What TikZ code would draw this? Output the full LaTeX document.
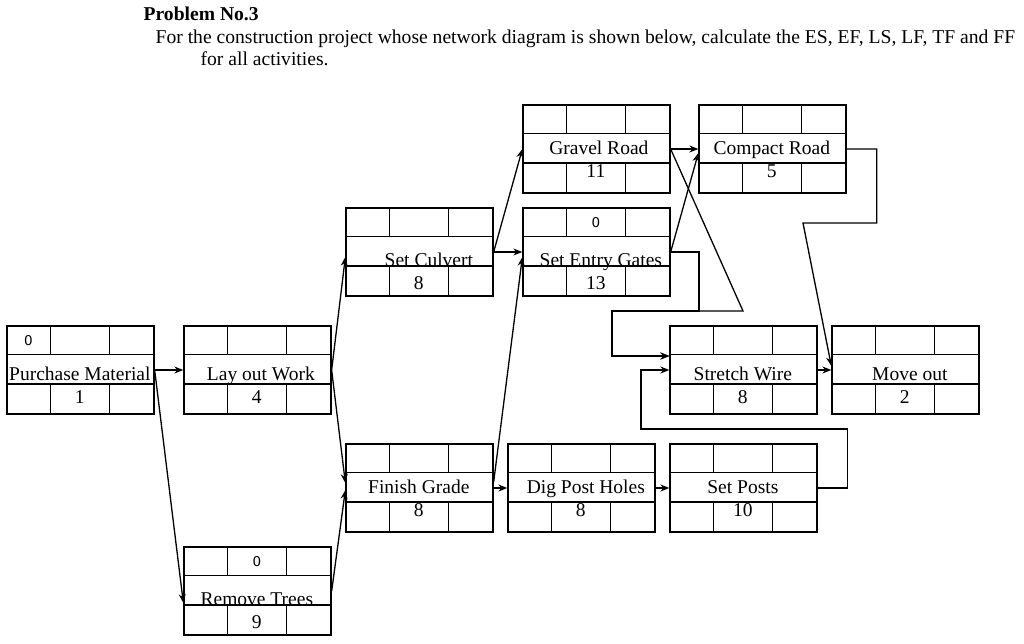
\documentclass[tikz,border=0pt]{standalone}
\usepackage{fontspec}
\setmainfont{Liberation Serif}
\newfontfamily\zerofont{DejaVu Sans}
\usetikzlibrary{calc, arrows.meta}

% one activity box: #1 name, #2 top left corner, #3 description,
% #4 duration, #5 vertical text shift, #6 horizontal shift of description
\newcommand{\activity}[6]{%
    \node[actbox] (#1) at ($(#2)+(73.5,44)$) {};
    \draw ($(#1.north west)+(0,29.3)$) -- ($(#1.north east)+(0,29.3)$);
    \draw ($(#1.north west)+(0,58.7)$) -- ($(#1.north east)+(0,58.7)$);
    \draw ($(#1.north west)+(44,0)$) -- +(0,29.3);
    \draw ($(#1.north west)+(103,0)$) -- +(0,29.3);
    \draw ($(#1.south west)+(44,0)$) -- +(0,-29.3);
    \draw ($(#1.south west)+(103,0)$) -- +(0,-29.3);
    \node[actlabel] (#1-text) at ($(#1.north west)+(73.5+#6,50+#5)$) {#3};
    \node[actlabel] (#1-dur) at ($(#1.north west)+(73.5,73.3+#5)$) {#4};
}

\begin{document}
\begin{tikzpicture}[
        x=1pt, y=-1pt, line width=1.3pt,
        >={Stealth[length=9pt,width=7pt]},
        actbox/.style={draw, minimum width=147pt, minimum height=88pt, inner sep=0pt},
        actlabel/.style={anchor=base, inner sep=0pt, font=\fontsize{19.5}{22}\selectfont},
        zero/.style={inner sep=0pt, font=\zerofont\fontsize{13.5}{15}\selectfont},
        heading/.style={anchor=base west, inner sep=0pt, font=\fontsize{19.6}{22}\selectfont}
    ]
    \useasboundingbox (0,0) rectangle (1024,643);

    % Problem statement
    \node[heading, font=\fontsize{19.6}{22}\selectfont\bfseries] (title) at (143,20) {Problem No.3};
    \node[heading] (task) at (155,43) {For the construction project whose network diagram is shown below, calculate the ES, EF, LS, LF, TF and FF};
    \node[heading] (task2) at (200,65) {for all activities.};

    % Activity boxes
    \activity{pm}{7,326}{Purchase Material}{1}{5}{0}
    \activity{lw}{184,326}{Lay out Work}{4}{5}{4}
    \activity{rt}{184,547}{Remove Trees}{9}{9}{0}
    \activity{sc}{346,208}{Set Culvert}{8}{9}{10}
    \activity{fg}{346,444}{Finish Grade}{8}{0}{0}
    \activity{gr}{523,105}{Gravel Road}{11}{0}{3}
    \activity{se}{523,208}{Set Entry Gates}{13}{9}{5}
    \activity{dp}{508,444}{Dig Post Holes}{8}{0}{5}
    \activity{cr}{699,105}{Compact Road}{5}{0}{0}
    \activity{sw}{670,326}{Stretch Wire}{8}{5}{0}
    \activity{sp}{670,444}{Set Posts}{10}{0}{0}
    \activity{mo}{832,326}{Move out}{2}{5}{5}

    % Early start values already filled in
    \node[zero] (pm-es) at ($(pm.north west)+(22,15)$) {0};
    \node[zero] (rt-es) at ($(rt.north west)+(73.5,15)$) {0};
    \node[zero] (se-es) at ($(se.north west)+(73.5,15)$) {0};

    % Bends of the routed connectors
    \coordinate (j1) at (743,311);
    \coordinate (j2) at (612,311);
    \coordinate (j3) at (699,311);
    \coordinate (j4) at (641,429);
    \coordinate (j5) at (803,223);

    % Connectors
    \draw[->] (pm.east) -- (lw.west);
    \draw[->] (pm.east) -- ($(rt.west)+(0,12)$);
    \draw[->] (lw.east) -- ($(sc.west)+(0,5)$);
    \draw[->] (lw.east) -- ($(fg.west)+(0,-5)$);
    \draw[->] (rt.east) -- ($(fg.west)+(0,2)$);
    \draw[->] (sc.east) -- (gr.west);
    \draw[->] (sc.east) -- (se.west);
    \draw[->] ($(fg.east)+(0,-6)$) -- ($(se.west)+(0,5)$);
    \draw[->] (fg.east) -- (dp.west);
    \draw[->] (dp.east) -- (sp.west);
    \draw[->] (gr.east) -- (cr.west);
    \draw[->] (se.east) -- ($(cr.west)+(0,4)$);
    \draw[->] (gr.east) -- (j1) -- (j2) |- ($(sw.west)+(0,-14)$);
    \draw[->] (se.east) -| (j3) -- (j2) |- ($(sw.west)+(0,-14)$);
    \draw[->] (sp.east) -- ++(30,0) |- (j4) |- (sw.west);
    \draw[->] (sw.east) -- (mo.west);
    \draw[->] (cr.east) -- ++(30,0) |- (j5) -- ($(mo.west)+(0,-4)$);

\end{tikzpicture}
\end{document}
